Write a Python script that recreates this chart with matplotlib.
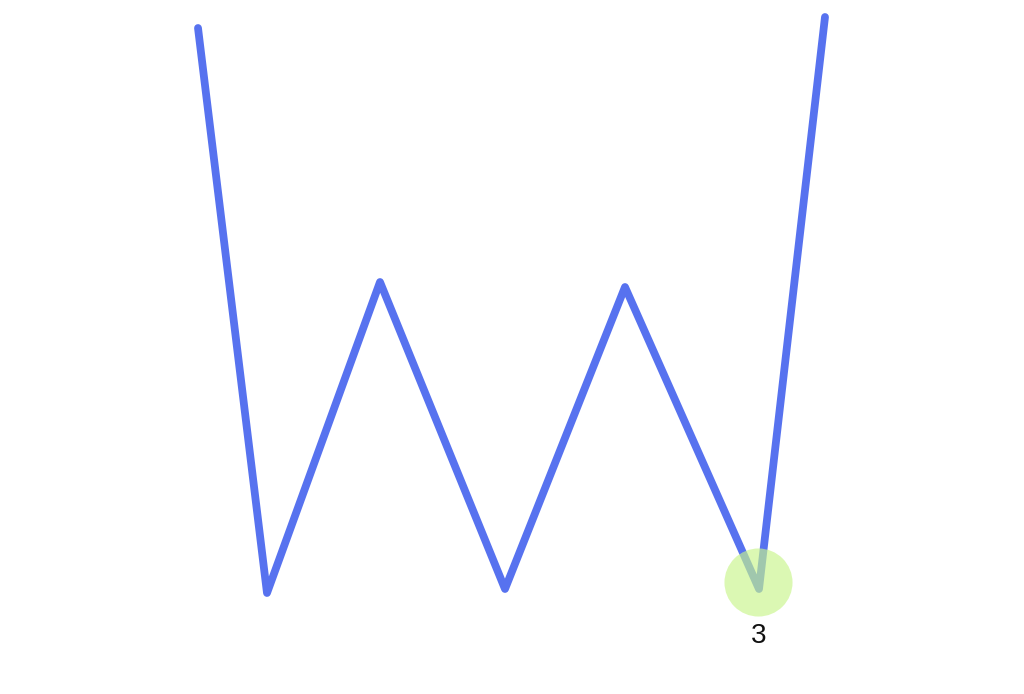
import matplotlib
matplotlib.use("Agg")
from matplotlib import pyplot as plt
from matplotlib.transforms import offset_copy

# points of the zigzag (x, value)
xs = [198, 267, 380, 505, 625, 759, 825]
vals = [666, 101, 412, 105, 407, 105, 677]
hl_idx = 5
hl_label = "3"

fig = plt.figure(figsize=(10.24, 6.94), dpi=100)
ax = fig.add_axes([0, 0, 1, 1])
ax.set_xlim(0, 1024)
ax.set_ylim(0, 694)
ax.axis("off")

ax.plot(xs, vals, color="#5772ef", lw=5.6, solid_capstyle="round",
        solid_joinstyle="round", zorder=2)

# highlight circle, a bit above the point
tr = offset_copy(ax.transData, fig=fig, x=-1, y=5, units="points")
ax.plot([xs[hl_idx]], [vals[hl_idx]], "o", ms=49, color="#c8f58a",
        alpha=0.65, mec="none", transform=tr, zorder=3)
ax.annotate(hl_label, (xs[hl_idx], vals[hl_idx]), xytext=(0, -34),
            textcoords="offset points", ha="center", va="center",
            fontsize=20, color="#111111", family="Liberation Sans")

fig.savefig("out.png", dpi=100)
